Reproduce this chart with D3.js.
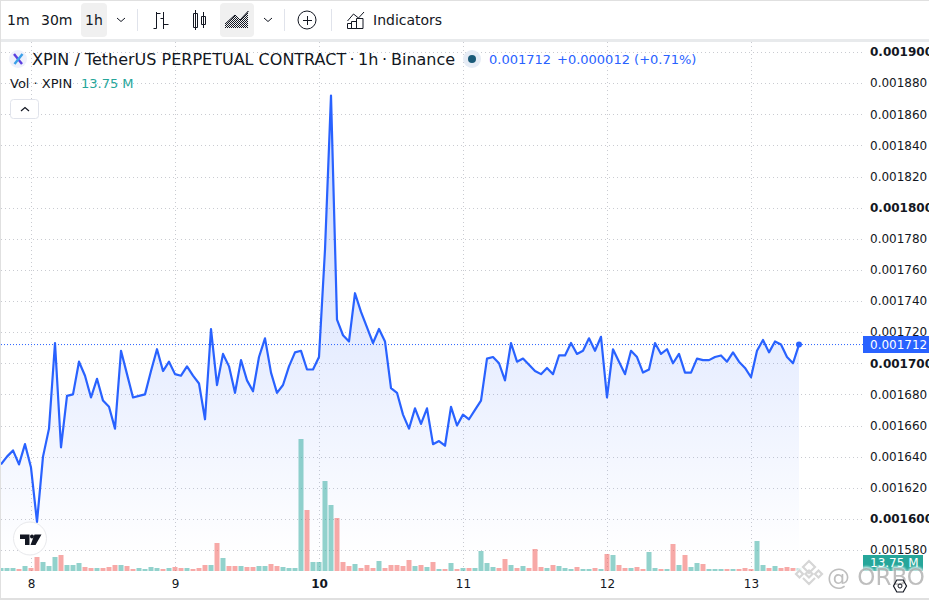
<!DOCTYPE html>
<head>
  <meta charset="utf-8">
  <script src="https://cdn.jsdelivr.net/npm/d3@7/dist/d3.min.js"></script>
  <style>
    body { margin:0; background:#fff; }
    svg { display:block; }
    text { font-family:"DejaVu Sans", sans-serif; }
  </style>
</head>
<body>
<svg width="929" height="600"></svg>
<script>
// hourly closes, in millionths of a USDT. first one is 7th 19:00
var closes = [1635,1640,1644,1635,1648,1633,1598,1640,1658,1713,1646,1679,1680,1701,1692,1678,1690,1676,1672,1658,
  1708,1693,1678,1679,1680,1695,1709,1695,1701,1693,1692,1698,1692,1687,1664,1722,1686,1706,1698,1681,
  1702,1689,1682,1704,1716,1694,1681,1686,1698,1707,1708,1696,1696,1704,1773,1872,1728,1718,1714,1745,
  1733,1723,1713,1722,1714,1684,1681,1667,1658,1671,1661,1671,1648,1650,1647,1672,1660,1667,1664,1670,
  1676,1703,1704,1700,1689,1713,1701,1703,1699,1695,1693,1697,1693,1705,1705,1713,1706,1708,1716,1708,
  1717,1678,1709,1701,1693,1708,1704,1694,1696,1713,1706,1709,1700,1706,1694,1694,1703,1702,1702,1704,
  1705,1701,1707,1701,1697,1691,1708,1715,1707,1714,1712,1704,1700,1712];
// volume in millions
var volumes = [15,15,15,10,25,15,70,45,25,70,80,30,30,40,20,15,15,15,20,30,
  30,25,10,15,10,20,15,10,15,20,15,15,10,15,30,30,140,65,25,25,
  25,20,20,25,25,35,25,20,15,15,660,305,45,45,450,330,265,45,25,35,
  15,30,15,50,15,30,30,25,55,25,30,20,45,10,10,40,10,15,15,15,
  100,40,20,15,60,30,15,25,15,110,20,15,30,25,15,10,20,10,10,15,
  10,85,80,30,15,15,20,10,95,15,10,10,135,30,80,20,40,35,10,10,
  10,10,10,10,15,10,150,30,15,25,15,20,15,13.75];
// 1 = green volume bar, 0 = red
var volUp = [1,1,1,0,1,0,0,1,1,1,0,1,1,1,0,0,1,0,0,0,
  1,0,0,1,1,1,1,0,1,0,0,1,0,0,0,1,0,1,0,0,
  1,0,0,1,1,0,0,1,1,1,1,0,1,1,1,1,0,0,0,1,
  0,0,0,1,0,0,0,0,0,1,0,1,0,1,0,1,0,1,0,1,
  1,1,1,0,0,1,0,1,0,0,0,1,0,1,1,1,0,1,1,0,
  1,0,1,0,0,1,0,0,1,1,0,1,0,1,0,1,1,0,1,1,
  1,0,1,0,0,0,1,1,0,1,0,0,0,1];
var dayIndex = [5,29,53,77,101,125];
var dayLabels = ["8","9","10","11","12","13"];
var priceTicks = d3.range(1580,1901,20);
var boldPrices = [1600,1700,1800,1900];
var lastPrice = 1712;

var blue = "#2962ff", green = "#26a69a", red = "#ef5350", ink = "#131722";
var plotRight = 863, baseY = 571;

var svg = d3.select("svg");
var defs = svg.append("defs");

var x = d3.scaleLinear().domain([0,closes.length-1]).range([1,799]);
var y = d3.scaleLinear().domain([1580,1900]).range([550,52]);
var v = d3.scaleLinear().domain([0,660]).range([baseY,439]);

defs.append("clipPath").attr("id","plot").append("rect")
  .attr("x",1).attr("y",42).attr("width",928).attr("height",baseY-42);
var grad = defs.append("linearGradient").attr("id","fade")
  .attr("gradientUnits","userSpaceOnUse").attr("x1",0).attr("x2",0).attr("y1",95).attr("y2",baseY-15);
grad.append("stop").attr("offset",0).attr("stop-color",blue).attr("stop-opacity",0.25);
grad.append("stop").attr("offset",1).attr("stop-color",blue).attr("stop-opacity",0);
// dither for the area icon
var hatch = defs.append("pattern").attr("id","hatch").attr("patternUnits","userSpaceOnUse").attr("width",2).attr("height",2);
hatch.append("rect").attr("width",1).attr("height",1).attr("fill",ink);
hatch.append("rect").attr("x",1).attr("y",1).attr("width",1).attr("height",1).attr("fill",ink);
defs.append("filter").attr("id","soft").append("feGaussianBlur").attr("stdDeviation",1.2);

// grid
var grid = svg.append("g").attr("stroke","#c9cbd1").attr("stroke-width",1).attr("stroke-dasharray","1 3");
grid.selectAll("line.h").data(priceTicks).enter().append("line").attr("class","h")
  .attr("x1",1).attr("x2",plotRight).attr("y1",function(d){return Math.round(y(d))+0.5;}).attr("y2",function(d){return Math.round(y(d))+0.5;});
grid.selectAll("line.v").data(dayIndex).enter().append("line").attr("class","v")
  .attr("x1",function(d){return x(d)+0.5;}).attr("x2",function(d){return x(d)+0.5;}).attr("y1",42).attr("y2",baseY);

var plot = svg.append("g").attr("clip-path","url(#plot)");

// area + line
plot.append("path").datum(closes).attr("fill","url(#fade)")
  .attr("d",d3.area().x(function(d,i){return x(i);}).y0(baseY).y1(function(d){return y(d);}));

// volume
plot.selectAll("rect.vol").data(volumes).enter().append("rect").attr("class","vol")
  .attr("x",function(d,i){return x(i)-2.5;}).attr("width",5)
  .attr("y",function(d){return v(d);}).attr("height",function(d){return baseY-v(d);})
  .attr("fill",function(d,i){return volUp[i] ? green : red;}).attr("opacity",0.5);

plot.append("path").datum(closes).attr("fill","none").attr("stroke",blue).attr("stroke-width",2.2)
  .attr("stroke-linejoin","round")
  .attr("d",d3.line().x(function(d,i){return x(i);}).y(function(d){return y(d);}));

// last price dotted line and dot
plot.append("line").attr("x1",1).attr("x2",plotRight).attr("y1",y(lastPrice)).attr("y2",y(lastPrice))
  .attr("stroke",blue).attr("stroke-width",1).attr("stroke-dasharray","1 2");
plot.append("circle").attr("cx",x(closes.length-1)).attr("cy",y(lastPrice)).attr("r",3).attr("fill",blue);

// axes
var yAxis = d3.axisRight(y).tickValues(priceTicks).tickSize(0).tickPadding(0)
  .tickFormat(function(d){return (d/1e6).toFixed(6);});
var yg = svg.append("g").attr("transform","translate(870,0)").call(yAxis);
yg.select(".domain").remove();
yg.selectAll("text").attr("fill",ink).attr("font-size",12).attr("font-family","DejaVu Sans")
  .attr("font-weight",function(d){return boldPrices.indexOf(d)>=0 ? 700 : 400;});

var xAxis = d3.axisBottom(x).tickValues(dayIndex).tickSize(0).tickPadding(0)
  .tickFormat(function(d,i){return dayLabels[i];});
var xg = svg.append("g").attr("transform","translate(0,579)").call(xAxis);
xg.select(".domain").remove();
xg.selectAll("text").attr("fill",ink).attr("font-size",12).attr("font-family","DejaVu Sans")
  .attr("font-weight",function(d,i){return dayLabels[i]=="10" ? 700 : 400;});

// axis badges
svg.append("rect").attr("x",863).attr("y",336).attr("width",66).attr("height",17).attr("fill",blue);
svg.append("text").attr("x",870).attr("y",349).attr("font-size",12).attr("fill","#fff").text((lastPrice/1e6).toFixed(6));
svg.append("rect").attr("x",863).attr("y",555).attr("width",60).attr("height",16).attr("fill",green);
svg.append("text").attr("x",870).attr("y",567).attr("font-size",12).attr("fill","#fff").text("13.75 M");

// toolbar
svg.append("rect").attr("x",0).attr("y",0).attr("width",929).attr("height",1).attr("fill","#e0e0e0");
svg.append("rect").attr("x",0).attr("y",39).attr("width",929).attr("height",3).attr("fill","#e8eaec");
svg.append("rect").attr("x",0).attr("y",0).attr("width",1).attr("height",600).attr("fill","#e0e0e0");
svg.append("rect").attr("x",0).attr("y",598).attr("width",929).attr("height",2).attr("fill","#e0e0e0");

var bar = svg.append("g");
bar.append("rect").attr("x",81).attr("y",3).attr("width",26).attr("height",34).attr("rx",4).attr("fill","#f0f0f0");
bar.append("rect").attr("x",220).attr("y",3).attr("width",34).attr("height",34).attr("rx",4).attr("fill","#f0f0f0");
[["1m",7],["30m",41],["1h",85],["Indicators",373]].forEach(function(t){
  bar.append("text").attr("x",t[1]).attr("y",25).attr("font-size",14).attr("fill",ink).text(t[0]);
});
[137,284,331].forEach(function(sx){
  bar.append("rect").attr("x",sx).attr("y",9).attr("width",1).attr("height",22).attr("fill","#e0e3eb");
});
var stroke = function(d,w){
  return bar.append("path").attr("d",d).attr("fill","none").attr("stroke",ink).attr("stroke-width",w||1);
};
stroke("M117 18l4 3.5l4 -3.5");
stroke("M264 18l4 3.5l4 -3.5");
// bars icon
stroke("M156.5 12v16.5M153.5 28.5h3M156.5 13.5h4M163.5 12v17M160.5 18.5h3M163.5 24.5h5");
// candle icon
stroke("M195.5 10v20M193.5 13.5h4v14h-4zM203.5 12v16M201.5 16.5h4v8h-4z");
// area icon
bar.append("path").attr("d","M225 28v-4l10 -9l5 5l8 -9v17z").attr("fill","url(#hatch)");
stroke("M225 24l10 -9l5 5l8.5 -9");
// plus
bar.append("circle").attr("cx",307).attr("cy",20).attr("r",9).attr("fill","none").attr("stroke",ink);
stroke("M303 20.5h9M307.5 16v9");
// indicators icon
stroke("M347.5 21l6 -7l5 4l5.5 -6M347.5 28.5v-5h4v5zM351.5 28.5v-7h5v7zM356.5 28.5v-10h6.5v10z");

// legend
var logo = svg.append("g");
logo.append("circle").attr("cx",18).attr("cy",59).attr("r",9).attr("fill","#eef0fb");
logo.append("path").attr("d","M14 54l8 10").attr("stroke","#5b3fe0").attr("stroke-width",2.4);
logo.append("path").attr("d","M22.5 54l-8 10").attr("stroke","#3aa0e8").attr("stroke-width",2.4);
var titleParts = [["XPIN / TetherUS PERPETUAL CONTRACT",32],["·",349.5],["1h",358],["·",382],["Binance",391]];
titleParts.forEach(function(t){
  svg.append("text").attr("x",t[1]).attr("y",65).attr("font-size",16).attr("fill",ink).text(t[0]);
});
svg.append("circle").attr("cx",472).attr("cy",59).attr("r",9).attr("fill","#e6ecf5");
svg.append("circle").attr("cx",472).attr("cy",59).attr("r",4).attr("fill","#1a5a78");
svg.append("text").attr("x",489).attr("y",64).attr("font-size",13).attr("fill",blue)
  .text("0.001712");
svg.append("text").attr("x",557).attr("y",64).attr("font-size",13).attr("fill",blue)
  .text("+0.000012 (+0.71%)");
svg.append("text").attr("x",10).attr("y",88).attr("font-size",13).attr("fill",ink).text("Vol · XPIN");
svg.append("text").attr("x",81).attr("y",88).attr("font-size",13).attr("fill",green).text("13.75 M");

// collapse button
svg.append("rect").attr("x",10.5).attr("y",99.5).attr("width",28).attr("height",19).attr("rx",3)
  .attr("fill","#fff").attr("stroke","#e0e3eb");
svg.append("path").attr("d","M21 111l4 -3.5l4 3.5").attr("fill","none").attr("stroke",ink).attr("stroke-width",1.2);

// tv logo
svg.append("circle").attr("cx",30).attr("cy",538.5).attr("r",16.5).attr("fill","#fff").attr("stroke","#e8e9ec");
svg.append("path").attr("d","M20 534.5h9.5v10.5h-4.5v-6h-5zM34.5 534.5h7l-6 10.5h-5z").attr("fill","#131722");
svg.append("circle").attr("cx",32).attr("cy",536.5).attr("r",2).attr("fill","#131722");

// watermark
var diamond = "M809 561l6 6l-6 6l-6 -6zM796 574l3.5 -3.5l3.5 3.5l-3.5 3.5zM815 574l3.5 -3.5l3.5 3.5l-3.5 3.5zM803 578l6 6l6 -6M809 570.5l3.5 3.5l-3.5 3.5l-3.5 -3.5z";
var halo = svg.append("g").attr("filter","url(#soft)").attr("opacity",0.8);
halo.append("path").attr("d",diamond).attr("fill","none").attr("stroke","#fff").attr("stroke-width",5);
halo.append("text").attr("x",827).attr("y",585).attr("font-size",23).attr("fill","none")
  .attr("stroke","#fff").attr("stroke-width",3).text("@ ORBO");
var mark = svg.append("g");
mark.append("path").attr("d",diamond).attr("fill","none").attr("stroke","#d6d6d6").attr("stroke-width",2.2);
mark.append("text").attr("x",827).attr("y",585).attr("font-size",23).attr("fill","#8a8a8a").attr("opacity",0.55).text("@ ORBO");

// settings hexagon, sits over the watermark
svg.append("path").attr("d","M893.5 586l3.3 -6h6.4l3.3 6l-3.3 6h-6.4z").attr("fill","none").attr("stroke",ink).attr("stroke-width",1.2);
svg.append("circle").attr("cx",900).attr("cy",586).attr("r",2).attr("fill","none").attr("stroke",ink);
</script>
</body>
